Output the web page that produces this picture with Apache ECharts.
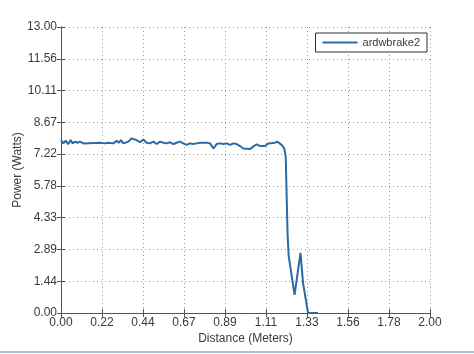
<!DOCTYPE html>
<html>
<head>
<meta charset="utf-8">
<script src="https://cdn.jsdelivr.net/npm/echarts@6/dist/echarts.min.js"></script>
<style>
html,body{margin:0;padding:0;background:#fff;}
#c{width:474px;height:354px;}
</style>
</head>
<body>
<div id="c"></div>
<script>
// Data
var seriesName = 'ardwbrake2';
var distance = [0.000,0.013,0.025,0.040,0.052,0.063,0.076,0.089,0.103,0.121,0.211,0.220,0.238,0.256,0.284,0.302,0.314,0.325,0.338,0.347,0.365,0.383,0.392,0.410,0.428,0.446,0.464,0.482,0.500,0.519,0.537,0.555,0.573,0.591,0.609,0.627,0.645,0.663,0.681,0.699,0.717,0.735,0.753,0.790,0.808,0.826,0.844,0.862,0.880,0.898,0.916,0.934,0.952,0.970,0.988,1.024,1.042,1.061,1.079,1.106,1.124,1.160,1.172,1.196,1.210,1.218,1.228,1.234,1.266,1.298,1.312,1.339,1.393];
var power = [7.86,7.71,7.83,7.68,7.86,7.71,7.79,7.74,7.79,7.71,7.74,7.83,7.71,7.74,7.71,7.83,7.74,7.86,7.71,7.79,7.79,7.94,8.02,7.86,7.76,7.89,7.74,7.71,7.79,7.68,7.79,7.74,7.71,7.76,7.68,7.74,7.79,7.71,7.64,7.71,7.68,7.71,7.74,7.74,7.71,7.48,7.68,7.71,7.68,7.71,7.64,7.71,7.68,7.59,7.48,7.45,7.56,7.67,7.59,7.59,7.71,7.74,7.79,7.64,7.48,7.11,3.60,2.60,0.82,2.73,1.36,0.00,0.00];
var xTickLabels = ['0.00','0.22','0.44','0.67','0.89','1.11','1.33','1.56','1.78','2.00'];
var yTickLabels = ['0.00','1.44','2.89','4.33','5.78','7.22','8.67','10.11','11.56','13.00'];
var xMax = 2, yMax = 13, nIntervals = 9;

var font = 'Liberation Sans';
var textColor = '#3a3a3a';
var axisColor = '#555';

function idx(v, max){ return Math.round(v / max * nIntervals); }

var chart = echarts.init(document.getElementById('c'), null, {renderer:'canvas'});
var dataPts = distance.map(function(d,i){ return [d, power[i]]; });

var baseAxisLine = {show:true, lineStyle:{color:axisColor, width:1}};
var option = {
  animation:false,
  backgroundColor:'#fff',
  textStyle:{fontFamily:font},
  grid:{left:61, right:44, top:27, bottom:41, show:false, containLabel:false, outerBoundsMode:'none'},
  legend:{
    data:[{name:seriesName}],
    right:47, top:33,
    padding:[4,7,4,7],
    borderColor:'#333', borderWidth:1, backgroundColor:'#fff',
    icon:'rect', itemWidth:35, itemHeight:2,
    textStyle:{fontFamily:font, fontSize:11, color:textColor}
  },
  xAxis:[{
    type:'value', min:0, max:xMax, interval:xMax/nIntervals,
    name:'Distance (Meters)', nameLocation:'middle', nameGap:20, nameMoveOverlap:false,
    nameTextStyle:{fontFamily:font, fontSize:12, color:textColor},
    axisLine:baseAxisLine,
    axisTick:{show:true, inside:true, length:4, lineStyle:{color:axisColor}},
    axisLabel:{fontFamily:font, fontSize:12, color:textColor, margin:4,
      formatter:function(v){ return xTickLabels[idx(v,xMax)]; }},
    splitLine:{show:true, lineStyle:{color:'#9a9a9a', type:[1,3], width:1}}
  },{
    type:'value', position:'top', min:0, max:xMax, interval:xMax/nIntervals,
    axisLine:baseAxisLine,
    axisTick:{show:true, inside:true, length:4, lineStyle:{color:axisColor}},
    axisLabel:{show:false}, splitLine:{show:false}
  }],
  yAxis:[{
    type:'value', min:0, max:yMax, interval:yMax/nIntervals,
    name:'Power (Watts)', nameLocation:'middle', nameGap:37, nameRotate:90, nameMoveOverlap:false,
    nameTextStyle:{fontFamily:font, fontSize:12, color:textColor},
    axisLine:baseAxisLine,
    axisTick:{show:true, inside:true, length:4, lineStyle:{color:axisColor}},
    axisLabel:{fontFamily:font, fontSize:12, color:textColor, margin:4,
      formatter:function(v){ return yTickLabels[idx(v,yMax)]; }},
    splitLine:{show:true, lineStyle:{color:'#9a9a9a', type:[1,3], width:1}}
  },{
    type:'value', position:'right', min:0, max:yMax, interval:yMax/nIntervals,
    axisLine:baseAxisLine,
    axisTick:{show:true, inside:true, length:4, lineStyle:{color:axisColor}},
    axisLabel:{show:false}, splitLine:{show:false}
  }],
  series:[{
    name:seriesName, type:'line', data:dataPts,
    symbol:'none', showSymbol:false,
    lineStyle:{color:'#2b6aa6', width:2},
    itemStyle:{color:'#2b6aa6'}
  }],
  graphic:[{
    type:'rect', left:0, bottom:1, shape:{width:474, height:2},
    style:{fill:'#a9c3e6'}, silent:true
  }]
};
chart.setOption(option);
</script>
</body>
</html>
